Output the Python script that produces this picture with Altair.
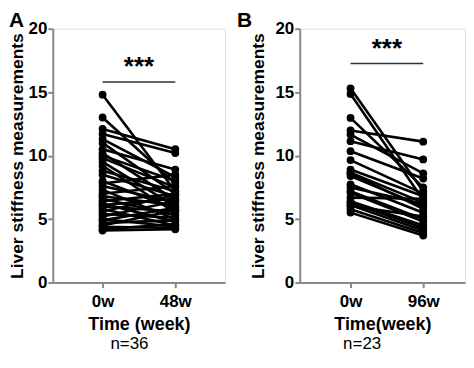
import altair as alt
import pandas as pd

# Panel A: 0w vs 48w (n=36)
a_0w = [14.8, 13.0, 12.1, 11.7, 11.3, 11.0, 10.5, 10.2, 10.0, 9.8, 9.5, 9.2,
        8.8, 8.5, 8.0, 7.8, 7.6, 7.3, 7.0, 6.8, 6.6, 6.4, 6.2, 6.1,
        6.0, 5.8, 5.6, 5.4, 5.2, 5.0, 4.9, 4.7, 4.5, 4.4, 4.2, 4.1]
a_48w = [7.2, 7.8, 10.5, 10.2, 8.3, 7.0, 8.9, 6.5, 8.0, 7.5, 6.0, 5.5,
         7.2, 6.8, 5.8, 8.5, 6.3, 5.0, 7.6, 6.1, 5.3, 7.0, 4.8, 6.6,
         5.6, 4.5, 6.9, 5.1, 6.4, 4.4, 5.9, 4.9, 5.7, 4.3, 4.6, 4.2]

# Panel B: 0w vs 96w (n=23)
b_0w = [15.3, 14.85, 12.97, 11.98, 11.66, 11.14, 10.35, 9.65, 8.9, 8.65, 8.6, 8.39,
        7.74, 7.48, 7.2, 7.08, 6.69, 6.4, 6.3, 6.1, 6.04, 5.78, 5.51]
b_96w = [7.2, 6.5, 7.5, 11.1, 8.6, 9.7, 8.2, 7.0, 6.8, 6.3, 5.8, 6.0,
         5.5, 6.2, 5.0, 4.8, 6.6, 4.5, 4.3, 4.1, 5.2, 3.9, 3.7]

tick_labels_a = ["0w", "48w"]
tick_labels_b = ["0w", "96w"]

FONT = "Liberation Sans"


def panel(v0, v1, labels, xtitle, ntext, letter, sig_y, star_y, width, xmin, xmax,
          title_x, n_x, letter_x):
    rows = []
    for i, (p, q) in enumerate(zip(v0, v1)):
        rows.append({"id": i, "t": 0, "v": p})
        rows.append({"id": i, "t": 1, "v": q})
    df = pd.DataFrame(rows)
    height = 255
    xs = alt.Scale(domain=[xmin, xmax], nice=False, zero=False)
    ys = alt.Scale(domain=[0, 20], nice=False, zero=True)
    xaxis = alt.Axis(values=[0, 1],
                     labelExpr=f"datum.value == 0 ? '{labels[0]}' : '{labels[1]}'",
                     title=xtitle, grid=False, tickSize=5, tickWidth=2, domainWidth=2,
                     labelFontSize=17, labelFontWeight="bold", labelPadding=6,
                     titleFontSize=18, titleFontWeight="bold", titlePadding=6,
                     labelFlush=False)
    yaxis = alt.Axis(values=[0, 5, 10, 15, 20], title="Liver stiffness measurements",
                     grid=False, tickSize=5, tickWidth=2, domainWidth=2,
                     labelFontSize=17, labelFontWeight="bold", labelPadding=1,
                     titleFontSize=17.5, titleFontWeight="bold", titleX=title_x,
                     labelFlush=False)
    X = alt.X("t:Q", scale=xs, axis=xaxis, title=xtitle)
    Y = alt.Y("v:Q", scale=ys, axis=yaxis, title="Liver stiffness measurements")

    base = alt.Chart(df)
    lines = base.mark_line(color="black", strokeWidth=2.6).encode(x=X, y=Y, detail="id:N")
    pts = base.mark_circle(size=62, color="black", opacity=1).encode(x=X, y=Y)

    sig = pd.DataFrame({"t": [0], "t2": [1], "v": [sig_y]})
    rule = alt.Chart(sig).mark_rule(color="#333333", strokeWidth=1.5).encode(
        x=X, x2=alt.X2("t2:Q", title=xtitle), y=Y)

    star = pd.DataFrame({"t": [0.5], "v": [star_y], "s": ["***"]})
    stars = alt.Chart(star).mark_text(fontSize=26, fontWeight="bold", font=FONT,
                                      color="black", baseline="middle").encode(
        x=X, y=Y, text="s:N")

    ndf = pd.DataFrame({"t": [n_x], "s": [ntext]})
    ntxt = alt.Chart(ndf).mark_text(fontSize=17, font=FONT, color="black",
                                    baseline="top", fontWeight=500).encode(
        x=X, y=alt.value(height + 54), text="s:N")

    ldf = pd.DataFrame({"s": [letter]})
    ltxt = alt.Chart(ldf).mark_text(fontSize=21, fontWeight="bold", font=FONT,
                                    color="black", align="left", baseline="top").encode(
        x=alt.value(letter_x), y=alt.value(-19), text="s:N")

    return alt.layer(lines, pts, rule, stars, ntxt, ltxt).properties(width=width, height=height)


pa = panel(a_0w, a_48w, tick_labels_a, "Time (week)", "n=36", "A", 15.8, 17.0,
           173, -0.685, 1.685, -26, 0.37, -44)
pb = panel(b_0w, b_96w, tick_labels_b, "Time(week)", "n=23", "B", 17.25, 18.4,
           166, -0.699, 1.575, -32, 0.16, -63)

chart = alt.hconcat(pa, pb, spacing=75, bounds="flush").properties(padding=0).configure_view(
    stroke=None).configure_axis(
    domainColor="black", tickColor="black", labelColor="black", titleColor="black",
    labelFont=FONT, titleFont=FONT).configure(font=FONT)

chart.save("out.html", embed_options={"renderer": "svg", "actions": False})
